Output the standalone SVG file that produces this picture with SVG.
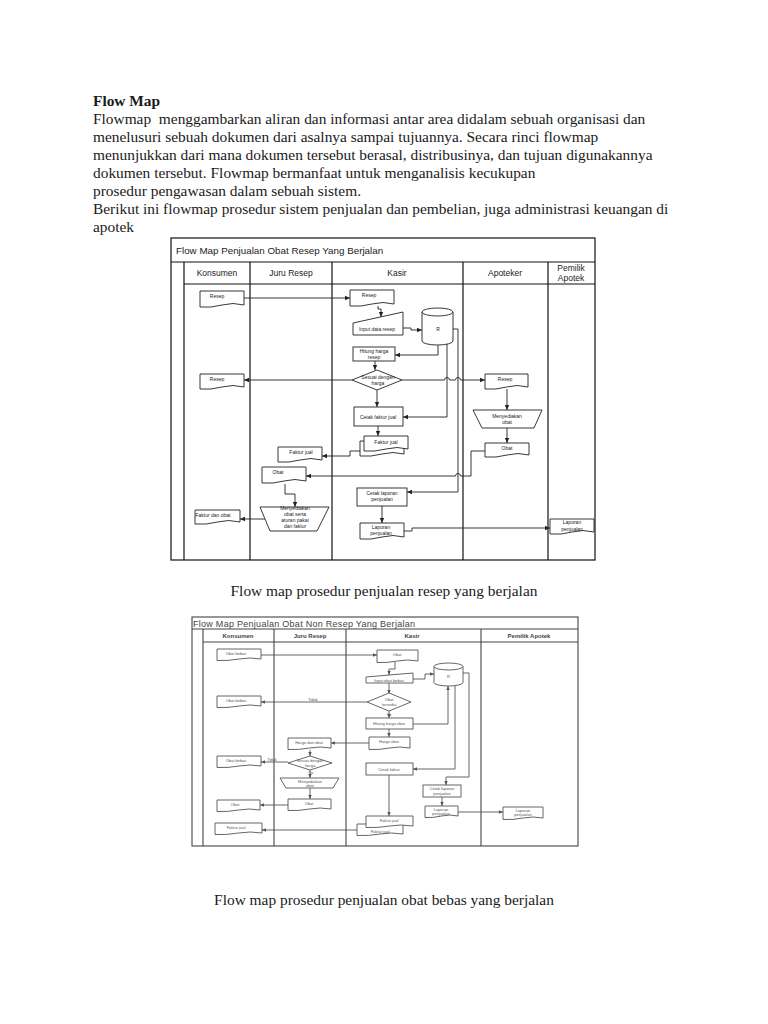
<svg xmlns="http://www.w3.org/2000/svg" width="768" height="1024" viewBox="0 0 768 1024">
<style>
.body{font-family:"Liberation Serif","Times New Roman",serif;font-size:15.4px;fill:#1a1a1a;white-space:pre}
.ln{fill:none;stroke:#222;stroke-width:0.9}
.ln2{fill:none;stroke:#555;stroke-width:0.9}
.sh{fill:#fff;stroke:#222;stroke-width:0.9}
.sh2{fill:#fff;stroke:#555;stroke-width:0.9}
.fr{fill:none;stroke:#111;stroke-width:1.2}
.fr2{fill:none;stroke:#444;stroke-width:1.1}
.t{font-family:"Liberation Sans",Arial,sans-serif;fill:#222;text-anchor:middle;font-size:5px}
.t2{font-family:"Liberation Sans",Arial,sans-serif;fill:#555;text-anchor:middle;font-size:4px}
.h{font-family:"Liberation Sans",Arial,sans-serif;fill:#222;text-anchor:middle;font-size:8.5px}
.h2{font-family:"Liberation Sans",Arial,sans-serif;fill:#444;text-anchor:middle;font-size:6px;font-weight:bold}
</style>
<defs>
<marker id="a" markerWidth="6" markerHeight="6" refX="5" refY="3" orient="auto" markerUnits="userSpaceOnUse"><path d="M0,0.8 L5,3 L0,5.2 z" fill="#222"/></marker>
<marker id="b" markerWidth="6" markerHeight="6" refX="4" refY="2.5" orient="auto" markerUnits="userSpaceOnUse"><path d="M0,0.8 L4,2.5 L0,4.2 z" fill="#555"/></marker>
</defs>
<rect width="768" height="1024" fill="#fff"/>

<g id="intro">
<text class="body" x="93" y="106" font-weight="bold">Flow Map</text>
<text class="body" x="93" y="124">Flowmap  menggambarkan aliran dan informasi antar area didalam sebuah organisasi dan</text>
<text class="body" x="93" y="142">menelusuri sebuah dokumen dari asalnya sampai tujuannya. Secara rinci flowmap</text>
<text class="body" x="93" y="160">menunjukkan dari mana dokumen tersebut berasal, distribusinya, dan tujuan digunakannya</text>
<text class="body" x="93" y="178">dokumen tersebut. Flowmap bermanfaat untuk menganalisis kecukupan</text>
<text class="body" x="93" y="196">prosedur pengawasan dalam sebuah sistem.</text>
<text class="body" x="93" y="214">Berikut ini flowmap prosedur sistem penjualan dan pembelian, juga administrasi keuangan di</text>
<text class="body" x="93" y="232">apotek</text>
</g>

<!-- ===== Flowmap 1 ===== -->
<g id="fm1-frame">
<rect class="fr" x="171" y="238" width="424" height="322"/>
<line class="fr" x1="171" y1="262" x2="595" y2="262"/>
<line class="fr" x1="184" y1="262" x2="184" y2="560"/>
<line class="fr" x1="184" y1="284" x2="595" y2="284"/>
<line class="fr" x1="250" y1="262" x2="250" y2="560"/>
<line class="fr" x1="332" y1="262" x2="332" y2="560"/>
<line class="fr" x1="463" y1="262" x2="463" y2="560"/>
<line class="fr" x1="548" y1="262" x2="548" y2="560"/>
<text x="176" y="254" font-family="Liberation Sans, Arial, sans-serif" font-size="9.8" fill="#222">Flow Map Penjualan Obat Resep Yang Berjalan</text>
<text class="h" x="217" y="276">Konsumen</text>
<text class="h" x="291" y="276">Juru Resep</text>
<text class="h" x="397" y="276">Kasir</text>
<text class="h" x="505" y="276">Apoteker</text>
<text class="h" x="571" y="271">Pemilik</text>
<text class="h" x="571" y="281">Apotek</text>
</g>

<g id="fm1-connectors">
<path class="ln" d="M244,298 H350" marker-end="url(#a)"/>
<path class="ln" d="M378,306 V309 H381 V317" marker-end="url(#a)"/>
<path class="ln" d="M403,328 H411 V330 H422" marker-end="url(#a)"/>
<path class="ln" d="M438,345 V355 H395" marker-end="url(#a)"/>
<path class="ln" d="M375,361 V370" marker-end="url(#a)"/>
<path class="ln" d="M352,380 H244" marker-end="url(#a)"/>
<path class="ln" d="M402,380 H444.5 a2.5,2.5 0 0,1 5,0 H455.5 a2.5,2.5 0 0,1 5,0 H485" marker-end="url(#a)"/>
<path class="ln" d="M377,390 V407" marker-end="url(#a)"/>
<path class="ln" d="M447,344 V417 H403" marker-end="url(#a)"/>
<path class="ln" d="M453,329 H458 V492 H407" marker-end="url(#a)"/>
<path class="ln" d="M378,426 V436" marker-end="url(#a)"/>
<path class="ln" d="M360,451 H350 V456 H322" marker-end="url(#a)"/>
<path class="ln" d="M485,451 H471 V476 H460.5 a2.5,2.5 0 0,0 -5,0 H306" marker-end="url(#a)"/>
<path class="ln" d="M507,389 V410" marker-end="url(#a)"/>
<path class="ln" d="M507,428 V443" marker-end="url(#a)"/>
<path class="ln" d="M285,484 V494 H295 V507" marker-end="url(#a)"/>
<path class="ln" d="M265,519 H240" marker-end="url(#a)"/>
<path class="ln" d="M382,506 V523" marker-end="url(#a)"/>
<path class="ln" d="M404,531 H412 V528 H550" marker-end="url(#a)"/>
</g>

<g id="fm1-resep-konsumen"><path class="sh" d="M200,291 h44 v14 q-11,-3 -22,0 t-22,2 z"/><text class="t" x="217" y="298">Resep</text></g>
<g id="fm1-resep-kasir"><path class="sh" d="M350,290 h44 v14 q-11,-3 -22,0 t-22,2 z"/><text class="t" x="369" y="297">Resep</text></g>
<g id="fm1-input"><polygon class="sh" points="353,323 403,312 403,335 353,335"/><text class="t" x="377" y="331" font-size="4">Input data resep</text></g>
<g id="fm1-db"><path class="sh" d="M422,312 a15.5,4 0 0,1 31,0 V341 a15.5,4 0 0,1 -31,0 Z"/><path class="ln" d="M422,312 a15.5,4 0 0,0 31,0"/><text class="t" x="438" y="331" font-size="7">R</text></g>
<g id="fm1-hitung"><rect class="sh" x="353" y="347" width="42" height="14"/><text class="t" x="374" y="353">Hitung harga</text><text class="t" x="374" y="359">resep</text></g>
<g id="fm1-sesuai"><polygon class="sh" points="352,380 377,370 402,380 377,390"/><text class="t" x="378" y="379">Sesuai dengan</text><text class="t" x="378" y="385">harga</text></g>
<g id="fm1-resep-konsumen2"><path class="sh" d="M200,374 h44 v13 q-11,-3 -22,0 t-22,2 z"/><text class="t" x="217" y="381">Resep</text></g>
<g id="fm1-resep-apoteker"><path class="sh" d="M485,374 h43 v13 q-10.75,-3 -21.5,0 t-21.5,2 z"/><text class="t" x="505" y="381">Resep</text></g>
<g id="fm1-cetak-faktur"><rect class="sh" x="354" y="407" width="49" height="19"/><text class="t" x="378" y="419">Cetak faktur jual</text></g>
<g id="fm1-menyediakan"><polygon class="sh" points="473,410 542,410 534,428 482,428"/><text class="t" x="507" y="418">Menyediakan</text><text class="t" x="507" y="424" font-size="4">obat</text></g>
<g id="fm1-faktur-multi"><path class="sh" d="M360,441 h44 v13 q-11,-3 -22,0 t-22,2 z"/><path class="sh" d="M364,436 h44 v13 q-11,-3 -22,0 t-22,2 z"/><text class="t" x="386" y="444">Faktur jual</text></g>
<g id="fm1-faktur-juru"><path class="sh" d="M278,447 h44 v13 q-11,-3 -22,0 t-22,2 z"/><text class="t" x="301" y="454">Faktur jual</text></g>
<g id="fm1-obat-apoteker"><path class="sh" d="M485,443 h44 v12 q-11,-3 -22,0 t-22,2 z"/><text class="t" x="507" y="450">Obat</text></g>
<g id="fm1-obat-juru"><path class="sh" d="M262,467 h44 v14 q-11,-3 -22,0 t-22,2 z"/><text class="t" x="278" y="474">Obat</text></g>
<g id="fm1-cetak-laporan"><rect class="sh" x="357" y="488" width="50" height="18"/><text class="t" x="382" y="495" font-size="4">Cetak laporan</text><text class="t" x="382" y="501">penjualan</text></g>
<g id="fm1-menyediakan2"><polygon class="sh" points="260,507 329,507 317,531 270,531"/><text class="t" x="295" y="510">Menyediakan</text><text class="t" x="295" y="516">obat serta</text><text class="t" x="295" y="522">aturan pakai</text><text class="t" x="295" y="528">dan faktur</text></g>
<g id="fm1-faktur-obat"><path class="sh" d="M195,510 h45 v12 q-11.25,-3 -22.5,0 t-22.5,2 z"/><text class="t" x="213" y="517" font-size="4.5">Faktur dan obat</text></g>
<g id="fm1-laporan-kasir"><path class="sh" d="M360,523 h44 v14 q-11,-3 -22,0 t-22,2 z"/><text class="t" x="381" y="529">Laporan</text><text class="t" x="381" y="535">penjualan</text></g>
<g id="fm1-laporan-pemilik"><path class="sh" d="M550,519 h44 v13 q-11,-3 -22,0 t-22,2 z"/><text class="t" x="572" y="524">Laporan</text><text class="t" x="572" y="531">penjualan</text></g>

<text class="body" x="384" y="596" text-anchor="middle" font-size="15.5">Flow map prosedur penjualan resep yang berjalan</text>

<!-- ===== Flowmap 2 ===== -->
<g id="fm2-frame">
<rect class="fr2" x="192" y="617" width="386" height="229"/>
<line class="fr2" x1="192" y1="629" x2="578" y2="629"/>
<line class="fr2" x1="203" y1="629" x2="203" y2="846"/>
<line class="fr2" x1="203" y1="642" x2="578" y2="642"/>
<line class="fr2" x1="274" y1="629" x2="274" y2="846"/>
<line class="fr2" x1="346" y1="629" x2="346" y2="846"/>
<line class="fr2" x1="481" y1="629" x2="481" y2="846"/>
<text x="193" y="626.5" font-family="Liberation Sans, Arial, sans-serif" font-size="9" fill="#444" textLength="222">Flow Map Penjualan Obat Non Resep Yang Berjalan</text>
<text class="h2" x="238" y="638">Konsumen</text>
<text class="h2" x="310" y="638">Juru Resep</text>
<text class="h2" x="412" y="638">Kasir</text>
<text class="h2" x="529" y="638">Pemilik Apotek</text>
</g>

<g id="fm2-connectors">
<path class="ln2" d="M261,655 H377" marker-end="url(#b)"/>
<path class="ln2" d="M395,662 V669 H389 V675" marker-end="url(#b)"/>
<path class="ln2" d="M413,679 H425 V674 H434" marker-end="url(#b)"/>
<path class="ln2" d="M389,683 V694" marker-end="url(#b)"/>
<path class="ln2" d="M367,702 H261" marker-end="url(#b)"/>
<path class="ln2" d="M389,711 V718" marker-end="url(#b)"/>
<path class="ln2" d="M413,724 H448 V686" marker-end="url(#b)"/>
<path class="ln2" d="M389,729 V737" marker-end="url(#b)"/>
<path class="ln2" d="M369,743 H331" marker-end="url(#b)"/>
<path class="ln2" d="M310,750 V756" marker-end="url(#b)"/>
<path class="ln2" d="M288,762 H261" marker-end="url(#b)"/>
<path class="ln2" d="M310,770 V778" marker-end="url(#b)"/>
<path class="ln2" d="M310,788 V799" marker-end="url(#b)"/>
<path class="ln2" d="M288,805 H260" marker-end="url(#b)"/>
<path class="ln2" d="M455,686 V769 H413" marker-end="url(#b)"/>
<path class="ln2" d="M463,673 H469 V777 H446 V785" marker-end="url(#b)"/>
<path class="ln2" d="M389,775 V816" marker-end="url(#b)"/>
<path class="ln2" d="M442,797 V806" marker-end="url(#b)"/>
<path class="ln2" d="M458,812 H503" marker-end="url(#b)"/>
<path class="ln2" d="M357,830 H262" marker-end="url(#b)"/>
<text class="t2" x="313" y="701">Tidak</text>
<text class="t2" x="272" y="761">Tidak</text>
<text class="t2" x="389" y="716">Ya</text>
<text class="t2" x="311" y="774">Ya</text>
</g>

<g id="fm2-obatbebas1"><path class="sh2" d="M217,649 h44 v10 q-11,-2 -22,0 t-22,1.5 z"/><text class="t2" x="236" y="655">Obat bebas</text></g>
<g id="fm2-obat-kasir"><path class="sh2" d="M377,650 h41 v11 q-10.25,-2 -20.5,0 t-20.5,1.5 z"/><text class="t2" x="397" y="656">Obat</text></g>
<g id="fm2-input"><polygon class="sh2" points="366,677 413,673 413,683 366,683"/><text class="t2" x="389" y="681.5">Input obat bebas</text></g>
<g id="fm2-db"><path class="sh2" d="M434,666.5 a14.5,3.5 0 0,1 29,0 V682.5 a14.5,3.5 0 0,1 -29,0 Z"/><path class="ln2" d="M434,666.5 a14.5,3.5 0 0,0 29,0"/><text class="t2" x="448.5" y="678" font-size="5">R</text></g>
<g id="fm2-cek"><polygon class="sh2" points="367,702 389,693 411,702 389,711"/><text class="t2" x="389" y="701">Obat</text><text class="t2" x="389" y="706">tersedia</text></g>
<g id="fm2-obatbebas2"><path class="sh2" d="M217,696 h44 v10 q-11,-2 -22,0 t-22,1.5 z"/><text class="t2" x="236" y="702">Obat bebas</text></g>
<g id="fm2-hitung"><rect class="sh2" x="366" y="718" width="47" height="11"/><text class="t2" x="389" y="725">Hitung harga obat</text></g>
<g id="fm2-harga-obat"><path class="sh2" d="M369,737 h41 v11 q-10.25,-2 -20.5,0 t-20.5,1.5 z"/><text class="t2" x="389" y="743">Harga obat</text></g>
<g id="fm2-harga-dan-obat"><path class="sh2" d="M288,738 h43 v10 q-10.75,-2 -21.5,0 t-21.5,1.5 z"/><text class="t2" x="309" y="744">Harga dan obat</text></g>
<g id="fm2-setuju"><polygon class="sh2" points="288,763 310,756 332,763 310,770"/><text class="t2" x="310" y="762">Sesuai dengan</text><text class="t2" x="310" y="766.5">harga</text></g>
<g id="fm2-obatbebas3"><path class="sh2" d="M217,756 h44 v10 q-11,-2 -22,0 t-22,1.5 z"/><text class="t2" x="236" y="762">Obat bebas</text></g>
<g id="fm2-cetak-faktur"><rect class="sh2" x="366" y="763" width="47" height="12"/><text class="t2" x="389" y="770.5">Cetak faktur</text></g>
<g id="fm2-menyediakan"><polygon class="sh2" points="280,778 339,778 333,788 286,788"/><text class="t2" x="310" y="782.5">Menyediakan</text><text class="t2" x="310" y="787">obat</text></g>
<g id="fm2-cetak-laporan"><rect class="sh2" x="423" y="785" width="38" height="12"/><text class="t2" x="442" y="790">Cetak laporan</text><text class="t2" x="442" y="795">penjualan</text></g>
<g id="fm2-obat-juru"><path class="sh2" d="M288,799 h43 v10 q-10.75,-2 -21.5,0 t-21.5,1.5 z"/><text class="t2" x="309" y="805">Obat</text></g>
<g id="fm2-obat-konsumen"><path class="sh2" d="M217,800 h43 v10 q-10.75,-2 -21.5,0 t-21.5,1.5 z"/><text class="t2" x="235" y="806">Obat</text></g>
<g id="fm2-laporan-kasir"><path class="sh2" d="M425,806 h33 v10 q-8.25,-2 -16.5,0 t-16.5,1.5 z"/><text class="t2" x="441" y="811">Laporan</text><text class="t2" x="441" y="815">penjualan</text></g>
<g id="fm2-laporan-pemilik"><path class="sh2" d="M503,807 h40 v11 q-10,-2 -20,0 t-20,1.5 z"/><text class="t2" x="523" y="812">Laporan</text><text class="t2" x="523" y="816">penjualan</text></g>
<g id="fm2-faktur-multi"><path class="sh2" d="M357,824 h46 v10 q-11.5,-2 -23,0 t-23,1.5 z"/><text class="t2" x="380" y="833">Faktur jual</text><path class="sh2" d="M366,816 h47 v10 q-11.75,-2 -23.5,0 t-23.5,1.5 z"/><text class="t2" x="389" y="822">Faktur jual</text></g>
<g id="fm2-faktur-konsumen"><path class="sh2" d="M215,823 h47 v10 q-11.75,-2 -23.5,0 t-23.5,1.5 z"/><text class="t2" x="236" y="829">Faktur jual</text></g>

<text class="body" x="384" y="905" text-anchor="middle" font-size="15.5">Flow map prosedur penjualan obat bebas yang berjalan</text>
</svg>
